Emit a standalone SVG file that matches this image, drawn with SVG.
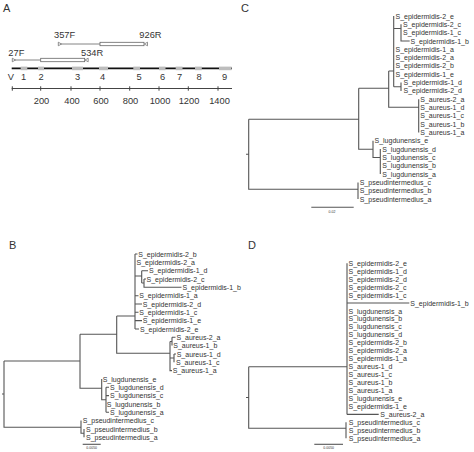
<svg xmlns="http://www.w3.org/2000/svg" width="474" height="452" viewBox="0 0 474 452">
<style>
text{font-family:"Liberation Sans",Arial,sans-serif;fill:#333}
.pl{font-size:11px}
.a{font-size:9.3px}
.t{font-size:7px}
.sc{font-size:3.5px;text-anchor:middle}
.c{text-anchor:middle}
.br{stroke:#555;stroke-width:1.1px;fill:none}
.ax{stroke:#444;stroke-width:1px;fill:none}
.vr{fill:#bdbdbd}
.pr{fill:#fff;stroke:#666;stroke-width:0.8px}
.pe{fill:#fff;stroke:#666;stroke-width:0.7px}
</style>
<rect width="474" height="452" fill="#fff"/>

<!-- Panel labels -->
<text class="pl" x="3" y="12">A</text>
<text class="pl" x="241" y="12">C</text>
<text class="pl" x="9" y="249">B</text>
<text class="pl" x="248" y="249">D</text>

<!-- Panel A -->
<g id="A-gene">
<line x1="11.7" y1="68.3" x2="232" y2="68.3" stroke="#111" stroke-width="1.8"/>
<rect class="vr" x="20.7" y="66.6" width="6.6" height="3.6"/>
<rect class="vr" x="38" y="66.6" width="6" height="3.6"/>
<rect class="vr" x="72" y="66.6" width="11" height="3.6"/>
<rect class="vr" x="99" y="66.6" width="9" height="3.6"/>
<rect class="vr" x="133.3" y="66.6" width="6.7" height="3.6"/>
<rect class="vr" x="159" y="66.6" width="6.5" height="3.6"/>
<rect class="vr" x="175.7" y="66.6" width="6.8" height="3.6"/>
<rect class="vr" x="195" y="66.6" width="6.8" height="3.6"/>
<rect class="vr" x="219" y="66.6" width="12.5" height="3.6"/>
<text class="a c" x="10.8" y="80">V</text>
<text class="a c" x="23.5" y="80">1</text>
<text class="a c" x="41" y="80">2</text>
<text class="a c" x="77.5" y="80">3</text>
<text class="a c" x="102.5" y="80">4</text>
<text class="a c" x="139" y="80">5</text>
<text class="a c" x="162.5" y="80">6</text>
<text class="a c" x="179.5" y="80">7</text>
<text class="a c" x="199" y="80">8</text>
<text class="a c" x="224.5" y="80">9</text>
</g>
<g id="A-primer-357F-926R">
<line x1="58.3" y1="44" x2="100" y2="44" stroke="#666" stroke-width="0.8"/>
<rect class="pr" x="100" y="42.3" width="44" height="3.4"/>
<path class="pe" d="M58.3,42.2 L61.5,44 L58.3,45.8 Z"/>
<path class="pe" d="M147.5,42.2 L144.3,44 L147.5,45.8 Z"/>
<text class="a" x="54" y="37.5">357F</text>
<text class="a" x="139.3" y="37.7">926R</text>
</g>
<g id="A-primer-27F-534R">
<line x1="12.3" y1="60" x2="40.7" y2="60" stroke="#666" stroke-width="0.8"/>
<rect class="pr" x="40.7" y="58.3" width="44" height="3.4"/>
<path class="pe" d="M12.3,58.2 L15.5,60 L12.3,61.8 Z"/>
<path class="pe" d="M88.2,58.2 L85,60 L88.2,61.8 Z"/>
<text class="a" x="8.3" y="55.7">27F</text>
<text class="a" x="81" y="55.7">534R</text>
</g>
<g id="A-axis">
<line class="ax" x1="11.7" y1="88.5" x2="232" y2="88.5"/>
<path class="ax" d="M12.3,86.3V90.7M40.7,86.3V90.7M71,86.3V90.7M100,86.3V90.7M129.7,86.3V90.7M159,86.3V90.7M188.3,86.3V90.7M218,86.3V90.7"/>
<text class="a c" x="41.5" y="104">200</text>
<text class="a c" x="72" y="104">400</text>
<text class="a c" x="101" y="104">600</text>
<text class="a c" x="130.5" y="104">800</text>
<text class="a c" x="160" y="104">1000</text>
<text class="a c" x="189" y="104">1200</text>
<text class="a c" x="219.5" y="104">1400</text>
</g>

<!-- Panel C -->
<g id="C-connectors">
<path class="br" d="M393.7,16V86.7M393.7,28.5H401M401,24.3V41H409.7M393.7,86.7H401M401,82.6V90.9M388.7,71H393.7M388.7,71V107.3H418.7M418.7,99.2V132.5M358.7,88.3H388.7M358.7,88.3V149.3H373M373,140.8V157.5H380.3M380.3,149.1V174.1M248.7,119.3H358.7M248.7,119.3V189.3H358M358,182.4V199M246,154.3H248.7"/>
<path class="br" d="M311.3,207.3H353.7"/>
</g>
<g id="C-scale"><text class="sc" x="332" y="212.5">0.02</text></g>
<g id="C-n1"><text class="t" x="395.5" y="18.5">S_epidermidis-2_e</text></g>
<g id="C-n2"><text class="t" x="403" y="26.8">S_epidermidis-2_c</text></g>
<g id="C-n3"><text class="t" x="403" y="35.1">S_epidermidis-1_c</text></g>
<g id="C-n4"><text class="t" x="410.5" y="43.5">S_epidermidis-1_b</text></g>
<g id="C-n5"><text class="t" x="395.5" y="51.8">S_epidermidis-1_a</text></g>
<g id="C-n6"><text class="t" x="395.5" y="60.1">S_epidermidis-2_a</text></g>
<g id="C-n7"><text class="t" x="395.5" y="68.4">S_epidermidis-2_b</text></g>
<g id="C-n8"><text class="t" x="395.5" y="76.7">S_epidermidis-1_e</text></g>
<g id="C-n9"><text class="t" x="403.5" y="85.1">S_epidermidis-1_d</text></g>
<g id="C-n10"><text class="t" x="403.5" y="93.4">S_epidermidis-2_d</text></g>
<g id="C-n11"><text class="t" x="420.3" y="101.7">S_aureus-2_a</text></g>
<g id="C-n12"><text class="t" x="420.3" y="110">S_aureus-1_d</text></g>
<g id="C-n13"><text class="t" x="420.3" y="118.3">S_aureus-1_c</text></g>
<g id="C-n14"><text class="t" x="420.3" y="126.7">S_aureus-1_b</text></g>
<g id="C-n15"><text class="t" x="420.3" y="135">S_aureus-1_a</text></g>
<g id="C-n16"><text class="t" x="374.5" y="143.3">S_lugdunensis_e</text></g>
<g id="C-n17"><text class="t" x="382.3" y="151.6">S_lugdunensis_d</text></g>
<g id="C-n18"><text class="t" x="382.3" y="159.9">S_lugdunensis_c</text></g>
<g id="C-n19"><text class="t" x="382.3" y="168.3">S_lugdunensis_b</text></g>
<g id="C-n20"><text class="t" x="382.3" y="176.6">S_lugdunensis_a</text></g>
<g id="C-n21"><text class="t" x="359.7" y="184.9">S_pseudintermedius_c</text></g>
<g id="C-n22"><text class="t" x="359.7" y="193.2">S_pseudintermedius_b</text></g>
<g id="C-n23"><text class="t" x="359.7" y="201.5">S_pseudintermedius_a</text></g>

<!-- Panel B -->
<g id="B-connectors">
<path class="br" d="M135,254V329M135,254H137.5M135,295.7H138.5M135,304H142M135,312.3H138.5M135,320.6H142M135,329H139M135,276H141.7M141.7,270.7V283M141.7,270.7H148M141.7,283H144M144,279V287.3H181.5M144,279H146M116.7,316H135M116.7,316V353.3H170M170,341.5V370.6H172M170,341.5H172M172,337.3V345.6M172,337.3H175.5M170,358H174M174,354V362.3M174,354H176M80,334.3H116.7M80,334.3V388.3H101.7M101.7,379V399.8H106M106,387.3V412.3M106,387.3H109M106,395.6H109M106,412.3H109M4,361H80M4,361V427.3H81M81,420.6V433.2H84M84,429V437.3M2,394H4"/>
<path class="br" d="M82.7,444.3H100.7"/>
</g>
<g id="B-scale"><text class="sc" x="91.7" y="449">0.0050</text></g>
<g id="B-n1"><text class="t" x="138.3" y="256.5">S_epidermidis-2_b</text></g>
<g id="B-n2"><text class="t" x="136.5" y="264.8">S_epidermidis-2_a</text></g>
<g id="B-n3"><text class="t" x="149" y="273.2">S_epidermidis-1_d</text></g>
<g id="B-n4"><text class="t" x="146.5" y="281.5">S_epidermidis-2_c</text></g>
<g id="B-n5"><text class="t" x="182.5" y="289.8">S_epidermidis-1_b</text></g>
<g id="B-n6"><text class="t" x="139.3" y="298.2">S_epidermidis-1_a</text></g>
<g id="B-n7"><text class="t" x="142.7" y="306.5">S_epidermidis-2_d</text></g>
<g id="B-n8"><text class="t" x="139.3" y="314.8">S_epidermidis-1_c</text></g>
<g id="B-n9"><text class="t" x="142.7" y="323.1">S_epidermidis-1_e</text></g>
<g id="B-n10"><text class="t" x="140" y="331.5">S_epidermidis-2_e</text></g>
<g id="B-n11"><text class="t" x="176.5" y="339.8">S_aureus-2_a</text></g>
<g id="B-n12"><text class="t" x="173.3" y="348.1">S_aureus-1_b</text></g>
<g id="B-n13"><text class="t" x="176.7" y="356.5">S_aureus-1_d</text></g>
<g id="B-n14"><text class="t" x="176" y="364.8">S_aureus-1_c</text></g>
<g id="B-n15"><text class="t" x="172.7" y="373.1">S_aureus-1_a</text></g>
<g id="B-n16"><text class="t" x="102.7" y="381.5">S_lugdunensis_e</text></g>
<g id="B-n17"><text class="t" x="110" y="389.8">S_lugdunensis_d</text></g>
<g id="B-n18"><text class="t" x="110" y="398.1">S_lugdunensis_c</text></g>
<g id="B-n19"><text class="t" x="106.7" y="406.5">S_lugdunensis_b</text></g>
<g id="B-n20"><text class="t" x="110" y="414.8">S_lugdunensis_a</text></g>
<g id="B-n21"><text class="t" x="82.7" y="423.1">S_pseudintermedius_c</text></g>
<g id="B-n22"><text class="t" x="86" y="431.5">S_pseudintermedius_b</text></g>
<g id="B-n23"><text class="t" x="86" y="439.8">S_pseudintermedius_a</text></g>

<!-- Panel D -->
<g id="D-connectors">
<path class="br" d="M347,263.3V414.4M347,303H409.3M347,414.4H378.7M248.7,366.7H347M248.7,366.7V428.3H346M346,422.3V438.2M246,397.5H248.7"/>
<path class="br" d="M314.3,444.3H343"/>
</g>
<g id="D-scale"><text class="sc" x="328.7" y="449">0.0050</text></g>
<g id="D-n1"><text class="t" x="348.5" y="265.8">S_epidermidis-2_e</text></g>
<g id="D-n2"><text class="t" x="348.5" y="273.7">S_epidermidis-1_d</text></g>
<g id="D-n3"><text class="t" x="348.5" y="281.7">S_epidermidis-2_d</text></g>
<g id="D-n4"><text class="t" x="348.5" y="289.6">S_epidermidis-2_c</text></g>
<g id="D-n5"><text class="t" x="348.5" y="297.6">S_epidermidis-1_c</text></g>
<g id="D-n6"><text class="t" x="410.3" y="305.5">S_epidermidis-1_b</text></g>
<g id="D-n7"><text class="t" x="348.5" y="313.5">S_lugdunensis_a</text></g>
<g id="D-n8"><text class="t" x="348.5" y="321.4">S_lugdunensis_b</text></g>
<g id="D-n9"><text class="t" x="348.5" y="329.4">S_lugdunensis_c</text></g>
<g id="D-n10"><text class="t" x="348.5" y="337.3">S_lugdunensis_d</text></g>
<g id="D-n11"><text class="t" x="348.5" y="345.3">S_epidermidis-2_b</text></g>
<g id="D-n12"><text class="t" x="348.5" y="353.2">S_epidermidis-2_a</text></g>
<g id="D-n13"><text class="t" x="348.5" y="361.2">S_epidermidis-1_a</text></g>
<g id="D-n14"><text class="t" x="348.5" y="369.1">S_aureus-1_d</text></g>
<g id="D-n15"><text class="t" x="348.5" y="377.1">S_aureus-1_c</text></g>
<g id="D-n16"><text class="t" x="348.5" y="385">S_aureus-1_b</text></g>
<g id="D-n17"><text class="t" x="348.5" y="393">S_aureus-1_a</text></g>
<g id="D-n18"><text class="t" x="348.5" y="400.9">S_lugdunensis_e</text></g>
<g id="D-n19"><text class="t" x="348.5" y="408.9">S_epidermidis-1_e</text></g>
<g id="D-n20"><text class="t" x="380.3" y="416.8">S_aureus-2_a</text></g>
<g id="D-n21"><text class="t" x="348.7" y="424.8">S_pseudintermedius_c</text></g>
<g id="D-n22"><text class="t" x="348.7" y="432.7">S_pseudintermedius_b</text></g>
<g id="D-n23"><text class="t" x="348.7" y="440.7">S_pseudintermedius_a</text></g>
</svg>
